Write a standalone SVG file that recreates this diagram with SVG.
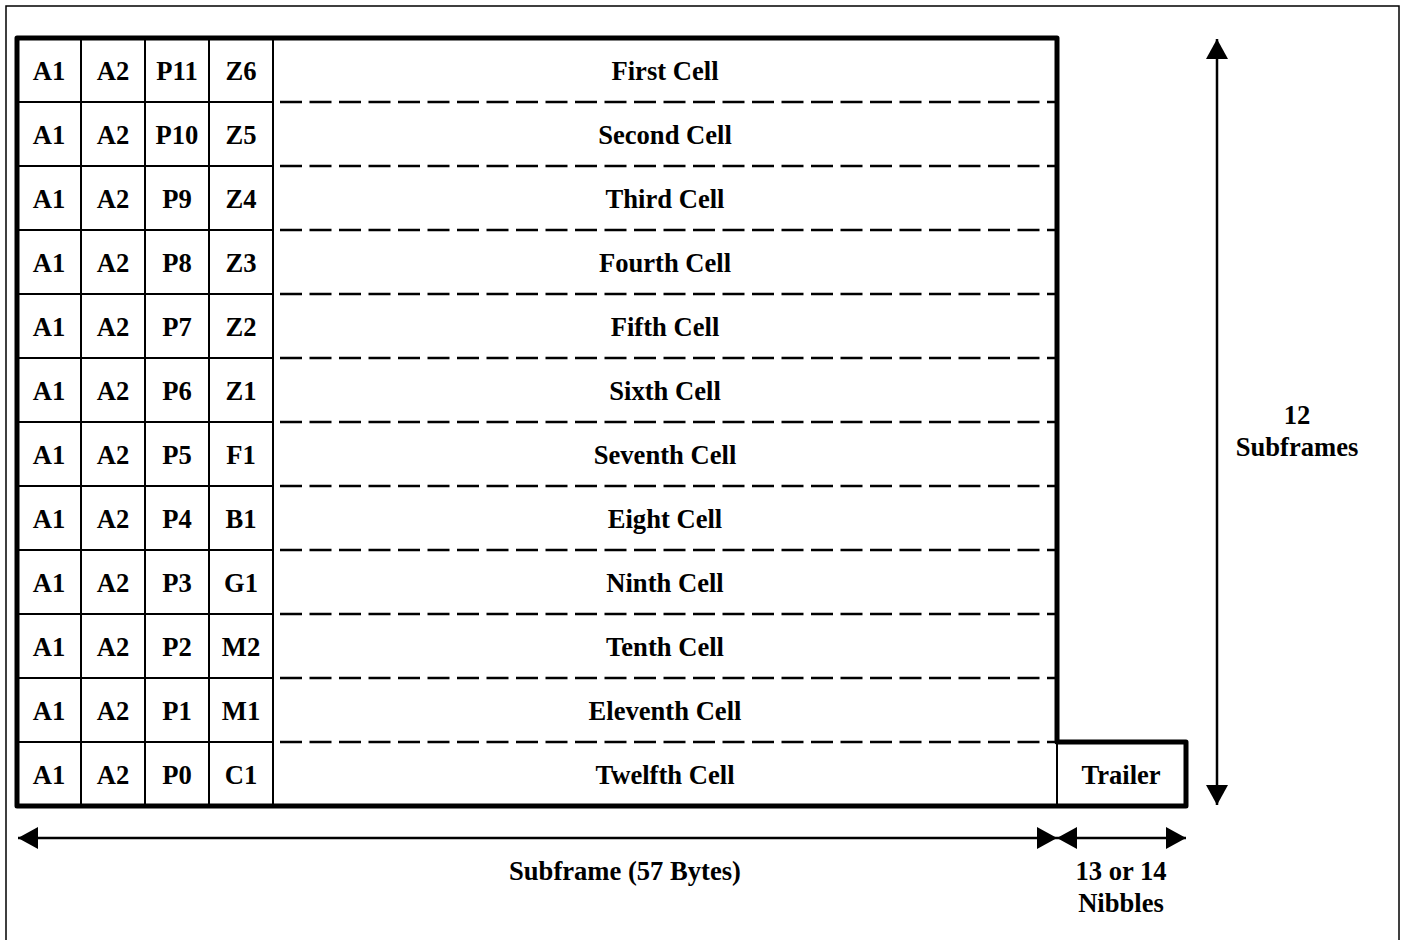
<svg xmlns="http://www.w3.org/2000/svg" width="1402" height="940" viewBox="0 0 1402 940">
<style>
text{font-family:"Liberation Serif","Times New Roman",serif;font-weight:bold;font-size:26.6px;fill:#000;text-anchor:middle}
.thin{stroke:#000;stroke-width:2;fill:none}
.dash{stroke:#000;stroke-width:2.5;stroke-dasharray:22 7.5;fill:none}
.thick{stroke:#000;stroke-width:5;fill:none;stroke-linejoin:round}
.arr{stroke:#000;stroke-width:2.5;fill:none}
</style>
<defs>
<marker id="ah" viewBox="0 0 20 22" refX="20" refY="11" markerWidth="20" markerHeight="22" markerUnits="userSpaceOnUse" orient="auto-start-reverse">
<path d="M0,0 L20,11 L0,22 Z" fill="#000"/>
</marker>
</defs>
<rect x="6" y="6" width="1393" height="940" fill="#fff" stroke="#000" stroke-width="1.5"/>
<g id="grid">
<g class="thin">
<line x1="81" y1="38" x2="81" y2="806"/>
<line x1="145" y1="38" x2="145" y2="806"/>
<line x1="209" y1="38" x2="209" y2="806"/>
<line x1="273" y1="38" x2="273" y2="806"/>
<line x1="1057" y1="742" x2="1057" y2="806"/>
<path d="M17,102H273M17,166H273M17,230H273M17,294H273M17,358H273M17,422H273M17,486H273M17,550H273M17,614H273M17,678H273M17,742H273"/>
</g>
<path class="dash" d="M280,102H1057M280,166H1057M280,230H1057M280,294H1057M280,358H1057M280,422H1057M280,486H1057M280,550H1057M280,614H1057M280,678H1057M280,742H1057"/>
<path class="thick" d="M17,38H1057V742H1186V806H17Z"/>
</g>
<g id="row1"><text x="49" y="80">A1</text><text x="113" y="80">A2</text><text x="177" y="80">P11</text><text x="241" y="80">Z6</text><text x="665" y="80">First Cell</text></g>
<g id="row2"><text x="49" y="144">A1</text><text x="113" y="144">A2</text><text x="177" y="144">P10</text><text x="241" y="144">Z5</text><text x="665" y="144">Second Cell</text></g>
<g id="row3"><text x="49" y="208">A1</text><text x="113" y="208">A2</text><text x="177" y="208">P9</text><text x="241" y="208">Z4</text><text x="665" y="208">Third Cell</text></g>
<g id="row4"><text x="49" y="272">A1</text><text x="113" y="272">A2</text><text x="177" y="272">P8</text><text x="241" y="272">Z3</text><text x="665" y="272">Fourth Cell</text></g>
<g id="row5"><text x="49" y="336">A1</text><text x="113" y="336">A2</text><text x="177" y="336">P7</text><text x="241" y="336">Z2</text><text x="665" y="336">Fifth Cell</text></g>
<g id="row6"><text x="49" y="400">A1</text><text x="113" y="400">A2</text><text x="177" y="400">P6</text><text x="241" y="400">Z1</text><text x="665" y="400">Sixth Cell</text></g>
<g id="row7"><text x="49" y="464">A1</text><text x="113" y="464">A2</text><text x="177" y="464">P5</text><text x="241" y="464">F1</text><text x="665" y="464">Seventh Cell</text></g>
<g id="row8"><text x="49" y="528">A1</text><text x="113" y="528">A2</text><text x="177" y="528">P4</text><text x="241" y="528">B1</text><text x="665" y="528">Eight Cell</text></g>
<g id="row9"><text x="49" y="592">A1</text><text x="113" y="592">A2</text><text x="177" y="592">P3</text><text x="241" y="592">G1</text><text x="665" y="592">Ninth Cell</text></g>
<g id="row10"><text x="49" y="656">A1</text><text x="113" y="656">A2</text><text x="177" y="656">P2</text><text x="241" y="656">M2</text><text x="665" y="656">Tenth Cell</text></g>
<g id="row11"><text x="49" y="720">A1</text><text x="113" y="720">A2</text><text x="177" y="720">P1</text><text x="241" y="720">M1</text><text x="665" y="720">Eleventh Cell</text></g>
<g id="row12"><text x="49" y="784">A1</text><text x="113" y="784">A2</text><text x="177" y="784">P0</text><text x="241" y="784">C1</text><text x="665" y="784">Twelfth Cell</text></g>
<g id="trailer"><text x="1121" y="784">Trailer</text></g>
<g id="connectors">
<line class="arr" x1="1217" y1="39" x2="1217" y2="805" marker-start="url(#ah)" marker-end="url(#ah)"/>
<line class="arr" x1="18" y1="838" x2="1057" y2="838" marker-start="url(#ah)" marker-end="url(#ah)"/>
<line class="arr" x1="1057" y1="838" x2="1186" y2="838" marker-start="url(#ah)" marker-end="url(#ah)"/>
</g>
<g id="labels">
<text x="1297" y="424">12</text>
<text x="1297" y="456">Subframes</text>
<text x="625" y="880">Subframe (57 Bytes)</text>
<text x="1121" y="880">13 or 14</text>
<text x="1121" y="912">Nibbles</text>
</g>
</svg>
